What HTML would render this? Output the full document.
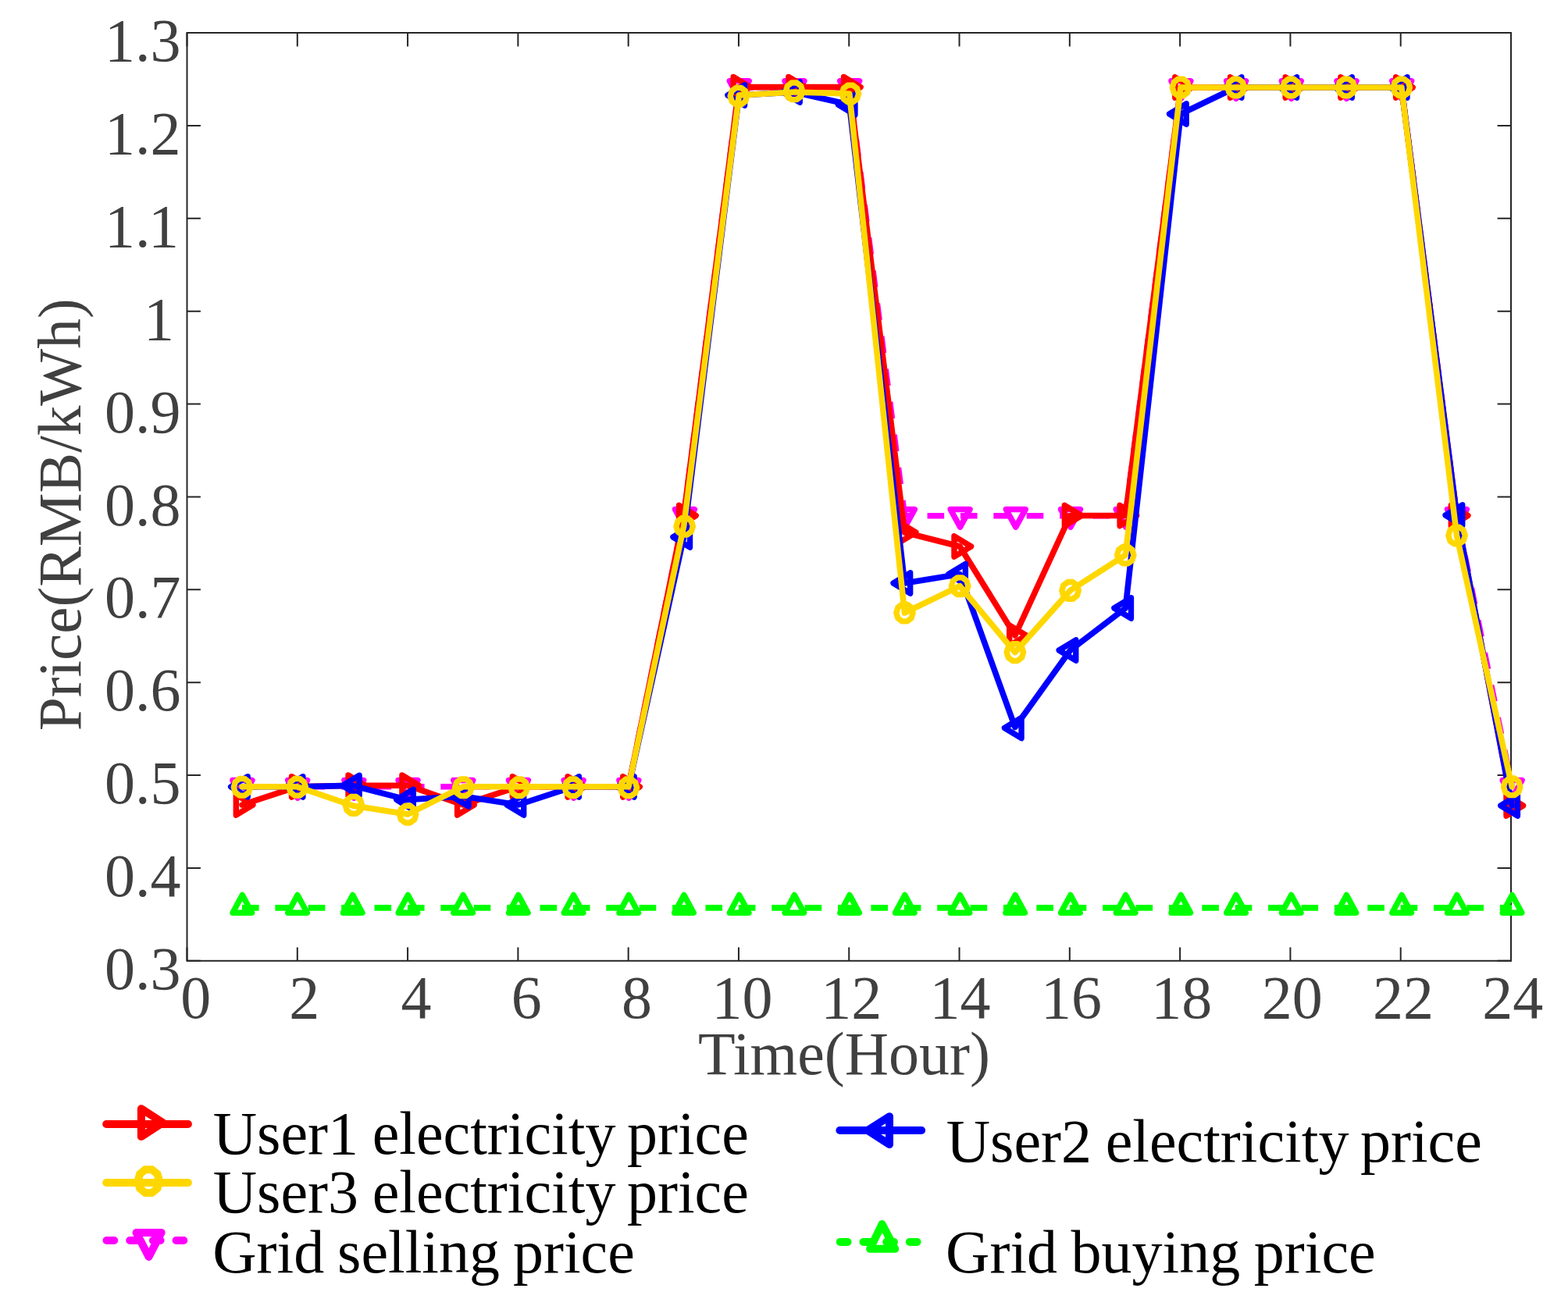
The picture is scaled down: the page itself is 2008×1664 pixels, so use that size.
<!DOCTYPE html>
<html lang="en"><head><meta charset="utf-8"><title>Electricity price</title>
<style>
html,body{margin:0;padding:0;background:#fff;}
html,body{width:2008px;height:1664px;}
svg{display:block;}
text{font-family:"Liberation Serif",serif;font-size:78px;white-space:pre;}
.tk{fill:#404040;}
.lg{fill:#000;}
</style></head><body>
<svg width="2008" height="1664" viewBox="0 0 2008 1664">
<rect x="0" y="0" width="2008" height="1664" fill="#fff"/>
<g stroke="#262626" stroke-width="2" fill="none" stroke-linecap="butt">
<rect x="239.5" y="42" width="1695.5" height="1188.8"/>
<path d="M239.5 1230.8V1213.4M239.5 42V59.4M380.79 1230.8V1213.4M380.79 42V59.4M522.08 1230.8V1213.4M522.08 42V59.4M663.38 1230.8V1213.4M663.38 42V59.4M804.67 1230.8V1213.4M804.67 42V59.4M945.96 1230.8V1213.4M945.96 42V59.4M1087.25 1230.8V1213.4M1087.25 42V59.4M1228.54 1230.8V1213.4M1228.54 42V59.4M1369.83 1230.8V1213.4M1369.83 42V59.4M1511.12 1230.8V1213.4M1511.12 42V59.4M1652.42 1230.8V1213.4M1652.42 42V59.4M1793.71 1230.8V1213.4M1793.71 42V59.4M1935 1230.8V1213.4M1935 42V59.4M239.5 42H256.9M1935 42H1917.6M239.5 160.88H256.9M1935 160.88H1917.6M239.5 279.76H256.9M1935 279.76H1917.6M239.5 398.64H256.9M1935 398.64H1917.6M239.5 517.52H256.9M1935 517.52H1917.6M239.5 636.4H256.9M1935 636.4H1917.6M239.5 755.28H256.9M1935 755.28H1917.6M239.5 874.16H256.9M1935 874.16H1917.6M239.5 993.04H256.9M1935 993.04H1917.6M239.5 1111.92H256.9M1935 1111.92H1917.6M239.5 1230.8H256.9M1935 1230.8H1917.6"/>
</g>
<text class="tk" text-anchor="end" transform="translate(231.5 78.1) scale(1 1.016)">1.3</text>
<text class="tk" text-anchor="end" transform="translate(231.5 196.98) scale(1 1.016)">1.2</text>
<text class="tk" text-anchor="end" transform="translate(229.1 315.86) scale(1 1.016)">1.<tspan dx="-2.4">1</tspan></text>
<text class="tk" text-anchor="end" transform="translate(223 434.74) scale(1 1.016)">1</text>
<text class="tk" text-anchor="end" transform="translate(231.5 553.62) scale(1 1.016)">0.9</text>
<text class="tk" text-anchor="end" transform="translate(231.5 672.5) scale(1 1.016)">0.8</text>
<text class="tk" text-anchor="end" transform="translate(231.5 791.38) scale(1 1.016)">0.7</text>
<text class="tk" text-anchor="end" transform="translate(231.5 910.26) scale(1 1.016)">0.6</text>
<text class="tk" text-anchor="end" transform="translate(231.5 1029.14) scale(1 1.016)">0.5</text>
<text class="tk" text-anchor="end" transform="translate(231.5 1148.02) scale(1 1.016)">0.4</text>
<text class="tk" text-anchor="end" transform="translate(231.5 1266.9) scale(1 1.016)">0.3</text>
<text class="tk" text-anchor="middle" transform="translate(250.8 1304) scale(1 1.016)">0</text>
<text class="tk" text-anchor="middle" transform="translate(389.7 1304) scale(1 1.016)">2</text>
<text class="tk" text-anchor="middle" transform="translate(532.9 1304) scale(1 1.016)">4</text>
<text class="tk" text-anchor="middle" transform="translate(674.3 1304) scale(1 1.016)">6</text>
<text class="tk" text-anchor="middle" transform="translate(815.5 1304) scale(1 1.016)">8</text>
<text class="tk" text-anchor="middle" transform="translate(950.5 1304) scale(1 1.016)">10</text>
<text class="tk" text-anchor="middle" transform="translate(1090.2 1304) scale(1 1.016)">12</text>
<text class="tk" text-anchor="middle" transform="translate(1229.5 1304) scale(1 1.016)">14</text>
<text class="tk" text-anchor="middle" transform="translate(1372 1304) scale(1 1.016)">16</text>
<text class="tk" text-anchor="middle" transform="translate(1513.3 1304) scale(1 1.016)">18</text>
<text class="tk" text-anchor="middle" transform="translate(1654.7 1304) scale(1 1.016)">20</text>
<text class="tk" text-anchor="middle" transform="translate(1797.1 1304) scale(1 1.016)">22</text>
<text class="tk" text-anchor="middle" transform="translate(1937.3 1304) scale(1 1.016)">24</text>
<text class="tk" transform="translate(894 1376.3) scale(1 1.016)">Time(Hour)</text>
<text class="tk" text-anchor="middle" transform="translate(102.6 659.3) rotate(-90) scale(0.9915 1.016)">Price(RMB/kWh)</text>
<g fill="none" stroke="#00ff00">
<polyline points="310,1162.9 380.7,1162.9 451.41,1162.9 522.11,1162.9 592.82,1162.9 663.52,1162.9 734.23,1162.9 804.93,1162.9 875.63,1162.9 946.34,1162.9 1017.04,1162.9 1087.75,1162.9 1158.45,1162.9 1229.16,1162.9 1299.86,1162.9 1370.57,1162.9 1441.27,1162.9 1511.97,1162.9 1582.68,1162.9 1653.38,1162.9 1724.09,1162.9 1794.79,1162.9 1865.5,1162.9 1936.2,1162.9" stroke-width="7.6" stroke-linejoin="round" stroke-dasharray="21.6 20.79"/>
<g stroke-width="7.4" stroke-linejoin="round">
<polygon points="298,1169.2 310.3,1146.45 322.6,1169.2"/>
<polygon points="368.7,1169.2 381,1146.45 393.3,1169.2"/>
<polygon points="439.41,1169.2 451.71,1146.45 464.01,1169.2"/>
<polygon points="510.11,1169.2 522.41,1146.45 534.71,1169.2"/>
<polygon points="580.82,1169.2 593.12,1146.45 605.42,1169.2"/>
<polygon points="651.52,1169.2 663.82,1146.45 676.12,1169.2"/>
<polygon points="722.23,1169.2 734.53,1146.45 746.83,1169.2"/>
<polygon points="792.93,1169.2 805.23,1146.45 817.53,1169.2"/>
<polygon points="863.63,1169.2 875.93,1146.45 888.23,1169.2"/>
<polygon points="934.34,1169.2 946.64,1146.45 958.94,1169.2"/>
<polygon points="1005.04,1169.2 1017.34,1146.45 1029.64,1169.2"/>
<polygon points="1075.75,1169.2 1088.05,1146.45 1100.35,1169.2"/>
<polygon points="1146.45,1169.2 1158.75,1146.45 1171.05,1169.2"/>
<polygon points="1217.16,1169.2 1229.46,1146.45 1241.76,1169.2"/>
<polygon points="1287.86,1169.2 1300.16,1146.45 1312.46,1169.2"/>
<polygon points="1358.57,1169.2 1370.87,1146.45 1383.17,1169.2"/>
<polygon points="1429.27,1169.2 1441.57,1146.45 1453.87,1169.2"/>
<polygon points="1499.97,1169.2 1512.27,1146.45 1524.57,1169.2"/>
<polygon points="1570.68,1169.2 1582.98,1146.45 1595.28,1169.2"/>
<polygon points="1641.38,1169.2 1653.68,1146.45 1665.98,1169.2"/>
<polygon points="1712.09,1169.2 1724.39,1146.45 1736.69,1169.2"/>
<polygon points="1782.79,1169.2 1795.09,1146.45 1807.39,1169.2"/>
<polygon points="1853.5,1169.2 1865.8,1146.45 1878.1,1169.2"/>
<polygon points="1924.2,1169.2 1936.5,1146.45 1948.8,1169.2"/>
</g>
</g>
<g fill="none" stroke="#ff00ff">
<polyline points="310,1007.8 380.7,1007.8 451.41,1007.8 522.11,1007.8 592.82,1007.8 663.52,1007.8 734.23,1007.8 804.93,1007.8 875.63,660.8 946.34,112 1017.04,112 1087.75,112 1158.45,660.8" stroke-width="7.6" stroke-linejoin="round" stroke-dasharray="21.6 20.79"/>
<polyline points="1158.45,660.8 1229.16,660.8 1299.86,660.8 1370.57,660.8 1441.27,660.8" stroke-width="7.6" stroke-linejoin="round" stroke-dasharray="21.6 20.79" stroke-dashoffset="13.3"/>
<polyline points="1441.27,660.8 1511.97,112 1582.68,112 1653.38,112 1724.09,112 1794.79,112 1865.5,660.8 1936.2,1007.8" stroke-width="7.6" stroke-linejoin="round" stroke-dasharray="21.6 20.79"/>
<g stroke-width="7.4" stroke-linejoin="round">
<polygon points="297.9,999.45 310.4,1022.15 322.9,999.45"/>
<polygon points="368.6,999.45 381.1,1022.15 393.6,999.45"/>
<polygon points="440.81,999.45 453.31,1022.15 465.81,999.45"/>
<polygon points="510.01,999.45 522.51,1022.15 535.01,999.45"/>
<polygon points="580.72,999.45 593.22,1022.15 605.72,999.45"/>
<polygon points="651.42,999.45 663.92,1022.15 676.42,999.45"/>
<polygon points="722.13,999.45 734.63,1022.15 747.13,999.45"/>
<polygon points="792.83,999.45 805.33,1022.15 817.83,999.45"/>
<polygon points="864.43,652.45 876.93,675.15 889.43,652.45"/>
<polygon points="934.24,103.65 946.74,126.35 959.24,103.65"/>
<polygon points="1004.94,103.65 1017.44,126.35 1029.94,103.65"/>
<polygon points="1075.65,103.65 1088.15,126.35 1100.65,103.65"/>
<polygon points="1146.35,652.45 1158.85,675.15 1171.35,652.45"/>
<polygon points="1217.06,652.45 1229.56,675.15 1242.06,652.45"/>
<polygon points="1288.26,652.45 1300.76,675.15 1313.26,652.45"/>
<polygon points="1358.47,652.45 1370.97,675.15 1383.47,652.45"/>
<polygon points="1429.17,652.45 1441.67,675.15 1454.17,652.45"/>
<polygon points="1499.87,103.65 1512.37,126.35 1524.87,103.65"/>
<polygon points="1570.58,103.65 1583.08,126.35 1595.58,103.65"/>
<polygon points="1641.28,103.65 1653.78,126.35 1666.28,103.65"/>
<polygon points="1711.99,103.65 1724.49,126.35 1736.99,103.65"/>
<polygon points="1782.69,103.65 1795.19,126.35 1807.69,103.65"/>
<polygon points="1853.4,652.45 1865.9,675.15 1878.4,652.45"/>
<polygon points="1924.1,999.45 1936.6,1022.15 1949.1,999.45"/>
</g>
</g>
<g fill="none" stroke="#ff0000">
<polyline points="310,1031 380.7,1007.8 451.41,1006.2 522.11,1006.2 592.82,1031 663.52,1007.8 734.23,1007.8 804.93,1007.8 875.63,660.5 946.34,111.6 1017.04,111.6 1087.75,111.6 1158.45,682 1229.16,700 1299.86,814 1370.57,660.5 1441.27,660.5 1511.97,112 1582.68,112 1653.38,112 1724.09,112 1794.79,112 1865.5,660.5 1936.2,1032" stroke-width="7.6" stroke-linejoin="round" stroke-linecap="round"/>
<g stroke-width="7.4" stroke-linejoin="round">
<polygon points="302.3,1017.8 323.9,1031 302.3,1044.2"/>
<polygon points="373.5,994.6 395.1,1007.8 373.5,1021"/>
<polygon points="446.01,993 467.61,1006.2 446.01,1019.4"/>
<polygon points="514.91,993 536.51,1006.2 514.91,1019.4"/>
<polygon points="585.62,1017.8 607.22,1031 585.62,1044.2"/>
<polygon points="656.32,994.6 677.92,1007.8 656.32,1021"/>
<polygon points="727.03,994.6 748.63,1007.8 727.03,1021"/>
<polygon points="797.73,994.6 819.33,1007.8 797.73,1021"/>
<polygon points="869.63,647.3 891.23,660.5 869.63,673.7"/>
<polygon points="939.14,98.4 960.74,111.6 939.14,124.8"/>
<polygon points="1009.84,98.4 1031.44,111.6 1009.84,124.8"/>
<polygon points="1080.55,98.4 1102.15,111.6 1080.55,124.8"/>
<polygon points="1151.25,668.8 1172.85,682 1151.25,695.2"/>
<polygon points="1221.96,686.8 1243.56,700 1221.96,713.2"/>
<polygon points="1292.66,800.8 1314.26,814 1292.66,827.2"/>
<polygon points="1363.37,647.3 1384.97,660.5 1363.37,673.7"/>
<polygon points="1434.07,647.3 1455.67,660.5 1434.07,673.7"/>
<polygon points="1504.77,98.8 1526.37,112 1504.77,125.2"/>
<polygon points="1575.48,98.8 1597.08,112 1575.48,125.2"/>
<polygon points="1646.18,98.8 1667.78,112 1646.18,125.2"/>
<polygon points="1716.89,98.8 1738.49,112 1716.89,125.2"/>
<polygon points="1787.59,98.8 1809.19,112 1787.59,125.2"/>
<polygon points="1858.3,647.3 1879.9,660.5 1858.3,673.7"/>
<polygon points="1929,1018.8 1950.6,1032 1929,1045.2"/>
</g>
</g>
<g fill="none" stroke="#0000ff">
<polyline points="310,1007.8 380.7,1007.8 451.41,1006.4 522.11,1024.4 592.82,1020 663.52,1031 734.23,1007.8 804.93,1007.8 875.63,688 946.34,122 1017.04,118 1087.75,134 1158.45,747 1229.16,735.5 1299.86,931.5 1370.57,833 1441.27,779 1511.97,146 1582.68,112 1653.38,112 1724.09,112 1794.79,112 1865.5,660 1936.2,1032" stroke-width="7.6" stroke-linejoin="round" stroke-linecap="round"/>
<g stroke-width="7.4" stroke-linejoin="round">
<polygon points="317.2,994.6 295.6,1007.8 317.2,1021"/>
<polygon points="387.9,994.6 366.3,1007.8 387.9,1021"/>
<polygon points="460.11,993.2 438.51,1006.4 460.11,1019.6"/>
<polygon points="529.31,1011.2 507.71,1024.4 529.31,1037.6"/>
<polygon points="600.02,1006.8 578.42,1020 600.02,1033.2"/>
<polygon points="670.72,1017.8 649.12,1031 670.72,1044.2"/>
<polygon points="741.43,994.6 719.83,1007.8 741.43,1021"/>
<polygon points="812.13,994.6 790.53,1007.8 812.13,1021"/>
<polygon points="883.53,674.8 861.93,688 883.53,701.2"/>
<polygon points="953.54,108.8 931.94,122 953.54,135.2"/>
<polygon points="1024.24,104.8 1002.64,118 1024.24,131.2"/>
<polygon points="1094.95,120.8 1073.35,134 1094.95,147.2"/>
<polygon points="1165.65,733.8 1144.05,747 1165.65,760.2"/>
<polygon points="1236.36,722.3 1214.76,735.5 1236.36,748.7"/>
<polygon points="1308.06,919.3 1286.46,932.5 1308.06,945.7"/>
<polygon points="1377.77,819.8 1356.17,833 1377.77,846.2"/>
<polygon points="1448.47,765.8 1426.87,779 1448.47,792.2"/>
<polygon points="1519.17,132.8 1497.57,146 1519.17,159.2"/>
<polygon points="1589.88,98.8 1568.28,112 1589.88,125.2"/>
<polygon points="1660.58,98.8 1638.98,112 1660.58,125.2"/>
<polygon points="1731.29,98.8 1709.69,112 1731.29,125.2"/>
<polygon points="1801.99,98.8 1780.39,112 1801.99,125.2"/>
<polygon points="1872.7,646.8 1851.1,660 1872.7,673.2"/>
<polygon points="1943.4,1018.8 1921.8,1032 1943.4,1045.2"/>
</g>
</g>
<g fill="none" stroke="#ffd700">
<polyline points="310,1007.8 380.7,1007.8 451.41,1031.9 522.11,1043.1 592.82,1007.8 663.52,1007.8 734.23,1007.8 804.93,1007.8 875.63,674 946.34,122 1017.04,118 1087.75,120 1158.45,785 1229.16,750.7 1299.86,835.6 1370.57,756.4 1441.27,711 1511.97,112 1582.68,112 1653.38,112 1724.09,112 1794.79,112 1865.5,686 1936.2,1007.8" stroke-width="7.6" stroke-linejoin="round" stroke-linecap="round"/>
<g stroke-width="7.4" stroke-linejoin="round">
<polygon points="320.7,1008.3 318.66,1015 313.31,1019.14 306.69,1019.14 301.34,1015 299.3,1008.3 301.34,1001.6 306.69,997.46 313.31,997.46 318.66,1001.6"/>
<polygon points="391.4,1008.3 389.36,1015 384.01,1019.14 377.4,1019.14 372.05,1015 370,1008.3 372.05,1001.6 377.4,997.46 384.01,997.46 389.36,1001.6"/>
<polygon points="463.61,1031.4 461.57,1038.1 456.22,1042.24 449.6,1042.24 444.25,1038.1 442.21,1031.4 444.25,1024.7 449.6,1020.56 456.22,1020.56 461.57,1024.7"/>
<polygon points="532.81,1043.1 530.77,1049.8 525.42,1053.94 518.81,1053.94 513.46,1049.8 511.41,1043.1 513.46,1036.4 518.81,1032.26 525.42,1032.26 530.77,1036.4"/>
<polygon points="604.02,1008.8 601.97,1015.5 596.62,1019.64 590.01,1019.64 584.66,1015.5 582.62,1008.8 584.66,1002.1 590.01,997.96 596.62,997.96 601.97,1002.1"/>
<polygon points="675.42,1008.8 673.38,1015.5 668.03,1019.64 661.42,1019.64 656.07,1015.5 654.02,1008.8 656.07,1002.1 661.42,997.96 668.03,997.96 673.38,1002.1"/>
<polygon points="744.43,1008.8 742.38,1015.5 737.03,1019.64 730.42,1019.64 725.07,1015.5 723.03,1008.8 725.07,1002.1 730.42,997.96 737.03,997.96 742.38,1002.1"/>
<polygon points="815.63,1008.8 813.59,1015.5 808.24,1019.64 801.62,1019.64 796.27,1015.5 794.23,1008.8 796.27,1002.1 801.62,997.96 808.24,997.96 813.59,1002.1"/>
<polygon points="887.33,674.3 885.29,681 879.94,685.14 873.33,685.14 867.98,681 865.93,674.3 867.98,667.6 873.33,663.46 879.94,663.46 885.29,667.6"/>
<polygon points="956.54,123.2 954.5,129.9 949.15,134.04 942.53,134.04 937.18,129.9 935.14,123.2 937.18,116.5 942.53,112.36 949.15,112.36 954.5,116.5"/>
<polygon points="1027.74,116.8 1025.7,123.5 1020.35,127.64 1013.74,127.64 1008.39,123.5 1006.34,116.8 1008.39,110.1 1013.74,105.96 1020.35,105.96 1025.7,110.1"/>
<polygon points="1099.65,120 1097.6,126.7 1092.25,130.84 1085.64,130.84 1080.29,126.7 1078.25,120 1080.29,113.3 1085.64,109.16 1092.25,109.16 1097.6,113.3"/>
<polygon points="1169.15,785 1167.11,791.7 1161.76,795.84 1155.15,795.84 1149.8,791.7 1147.75,785 1149.8,778.3 1155.15,774.16 1161.76,774.16 1167.11,778.3"/>
<polygon points="1239.86,750.7 1237.81,757.4 1232.46,761.54 1225.85,761.54 1220.5,757.4 1218.46,750.7 1220.5,744 1225.85,739.86 1232.46,739.86 1237.81,744"/>
<polygon points="1310.56,835.6 1308.52,842.3 1303.17,846.44 1296.55,846.44 1291.2,842.3 1289.16,835.6 1291.2,828.9 1296.55,824.76 1303.17,824.76 1308.52,828.9"/>
<polygon points="1381.27,756.4 1379.22,763.1 1373.87,767.24 1367.26,767.24 1361.91,763.1 1359.87,756.4 1361.91,749.7 1367.26,745.56 1373.87,745.56 1379.22,749.7"/>
<polygon points="1451.97,711 1449.93,717.7 1444.58,721.84 1437.96,721.84 1432.61,717.7 1430.57,711 1432.61,704.3 1437.96,700.16 1444.58,700.16 1449.93,704.3"/>
<polygon points="1522.67,112 1520.63,118.7 1515.28,122.84 1508.67,122.84 1503.32,118.7 1501.27,112 1503.32,105.3 1508.67,101.16 1515.28,101.16 1520.63,105.3"/>
<polygon points="1593.38,112 1591.33,118.7 1585.98,122.84 1579.37,122.84 1574.02,118.7 1571.98,112 1574.02,105.3 1579.37,101.16 1585.98,101.16 1591.33,105.3"/>
<polygon points="1664.08,112 1662.04,118.7 1656.69,122.84 1650.08,122.84 1644.73,118.7 1642.68,112 1644.73,105.3 1650.08,101.16 1656.69,101.16 1662.04,105.3"/>
<polygon points="1734.79,112 1732.74,118.7 1727.39,122.84 1720.78,122.84 1715.43,118.7 1713.39,112 1715.43,105.3 1720.78,101.16 1727.39,101.16 1732.74,105.3"/>
<polygon points="1805.49,112 1803.45,118.7 1798.1,122.84 1791.48,122.84 1786.13,118.7 1784.09,112 1786.13,105.3 1791.48,101.16 1798.1,101.16 1803.45,105.3"/>
<polygon points="1876.2,686 1874.15,692.7 1868.8,696.84 1862.19,696.84 1856.84,692.7 1854.8,686 1856.84,679.3 1862.19,675.16 1868.8,675.16 1874.15,679.3"/>
<polygon points="1946.9,1007.8 1944.86,1014.5 1939.51,1018.64 1932.89,1018.64 1927.54,1014.5 1925.5,1007.8 1927.54,1001.1 1932.89,996.96 1939.51,996.96 1944.86,1001.1"/>
</g>
</g>
<g fill="none" stroke-width="10" stroke-linecap="round" stroke-linejoin="round">
<g stroke="#ff0000"><path d="M136.2 1440H240.9"/><polygon points="180.9,1420.2 208.6,1438.1 180.9,1455.95"/></g>
<g stroke="#ffd700"><path d="M136.2 1515H240.9"/><polygon stroke-linejoin="miter" points="204.1,1513.1 201.46,1522.31 194.56,1528 186.04,1528 179.14,1522.31 176.5,1513.1 179.14,1503.89 186.04,1498.2 194.56,1498.2 201.46,1503.89"/></g>
<g stroke="#ff00ff"><path d="M136.5 1589H235.5" stroke-dasharray="9.7 20"/><polygon points="174.5,1578.9 206.6,1578.9 190.55,1609.9"/></g>
<g stroke="#0000ff"><path d="M1075.4 1448H1180.1"/><polygon points="1139,1430.15 1111.15,1448.07 1139,1466"/></g>
<g stroke="#00ff00"><path d="M1075.8 1590.9H1174.5" stroke-dasharray="9.7 20"/><polygon points="1114.1,1599.85 1146.2,1599.85 1129.6,1568"/></g>
</g>
<text class="lg" transform="translate(272.8 1478.2) scale(1 1.016)">User1<tspan dx="-1.9"> electricity</tspan><tspan dx="-4.9"> price</tspan></text>
<text class="lg" transform="translate(272.8 1552.9) scale(1 1.016)">User3<tspan dx="-1.9"> electricity</tspan><tspan dx="-4.9"> price</tspan></text>
<text class="lg" transform="translate(272.3 1629.6) scale(1 1.016)">Grid<tspan dx="-2.7"> selling</tspan><tspan dx="-2.5"> price</tspan></text>
<text class="lg" transform="translate(1211.8 1488.1) scale(1 1.016)">User2<tspan dx="-1.9"> electricity</tspan><tspan dx="-4.9"> price</tspan></text>
<text class="lg" transform="translate(1211.1 1629.6) scale(1 1.016)">Grid<tspan dx="-2"> buying</tspan><tspan dx="-1.9"> price</tspan></text>
</svg>
</body></html>
